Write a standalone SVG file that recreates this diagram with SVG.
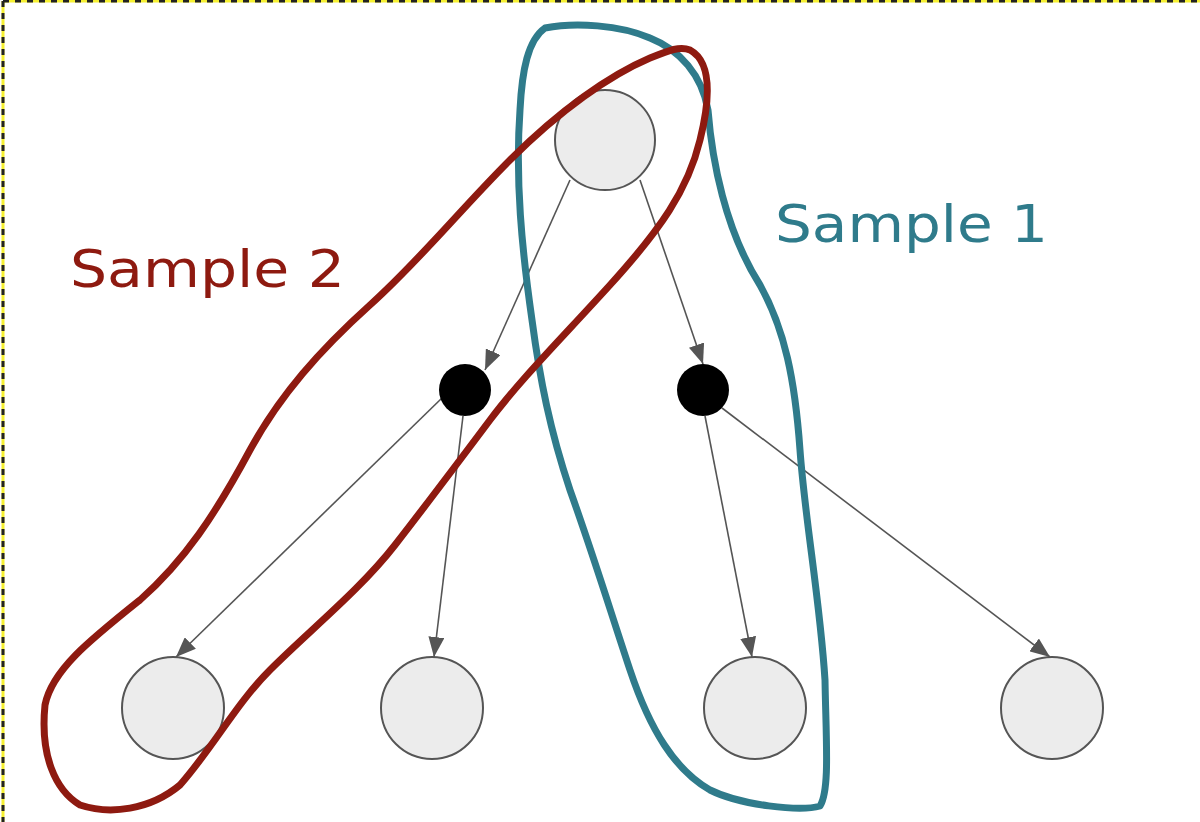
<svg xmlns="http://www.w3.org/2000/svg" width="1200" height="822" viewBox="0 0 1200 822">
<style>
.n{fill:#ececec;stroke:#555;stroke-width:2}
.d{fill:#000}
.lp{fill:none;stroke-width:7;stroke-linejoin:round;stroke-linecap:round}
.t{font-family:"DejaVu Sans",Verdana,sans-serif;font-size:52px}
</style>
<defs>
<marker id="b" viewBox="0 0 20 16" refX="20" refY="8" markerWidth="20" markerHeight="16" orient="auto" markerUnits="userSpaceOnUse"><path d="M0,0L20,8L0,16z" fill="#555"/></marker></defs>
<rect x="0" y="0" width="1200" height="822" fill="#fff"/>
<path d="M3,1H1200M3,1V822" stroke="#f5f032" stroke-width="3"/>
<path d="M3,1H1200M3,1V822" stroke="#222" stroke-width="3" stroke-dasharray="6 6"/>
<g id="connectors" stroke="#555" stroke-width="1.6" fill="none">
<path d="M570,180L485,370" marker-end="url(#b)"/>
<path d="M640,180L703,364" marker-end="url(#b)"/>
<path d="M443,397L176,657" marker-end="url(#b)"/>
<path d="M463,416L434,657" marker-end="url(#b)"/>
<path d="M705,416L752,657" marker-end="url(#b)"/>
<path d="M722,408L1050,657" marker-end="url(#b)"/>
</g>
<g id="n0"><circle class="n" cx="605" cy="140" r="50"/></g>
<g id="d1"><circle class="d" cx="465" cy="390" r="26"/></g>
<g id="d2"><circle class="d" cx="703" cy="390" r="26"/></g>
<g id="n1"><circle class="n" cx="173" cy="708" r="51"/></g>
<g id="n2"><circle class="n" cx="432" cy="708" r="51"/></g>
<g id="n3"><circle class="n" cx="755" cy="708" r="51"/></g>
<g id="n4"><circle class="n" cx="1052" cy="708" r="51"/></g>
<g id="sample1">
<path class="lp" stroke="#2f7b8b" d="M545,28C575,22 620,25 650,38C680,50 702,75 708,110C712,160 725,230 760,285C785,330 795,380 800,450C805,520 820,600 825,680C826,740 830,790 820,806C800,812 740,805 710,790C675,770 650,730 630,670C610,610 595,560 570,490C550,430 540,380 532,320C522,250 515,180 520,110C522,70 528,40 545,28Z"/>
<text class="t" x="775" y="242" fill="#2f7b8b" textLength="273" lengthAdjust="spacingAndGlyphs">Sample 1</text>
</g>
<g id="sample2">
<path class="lp" stroke="#8e1a10" d="M690,50C712,62 710,100 700,140C688,190 660,230 610,285C560,340 520,380 490,420C460,460 430,500 395,545C360,590 310,630 270,670C235,705 215,745 180,785C150,810 110,815 80,805C55,790 40,755 45,705C52,670 90,640 140,600C185,560 215,515 250,450C280,395 320,350 370,305C420,260 460,210 510,160C560,110 610,75 650,58C670,50 680,46 690,50Z"/>
<text class="t" x="70" y="287" fill="#8e1a10" textLength="275" lengthAdjust="spacingAndGlyphs">Sample 2</text>
</g>
</svg>
